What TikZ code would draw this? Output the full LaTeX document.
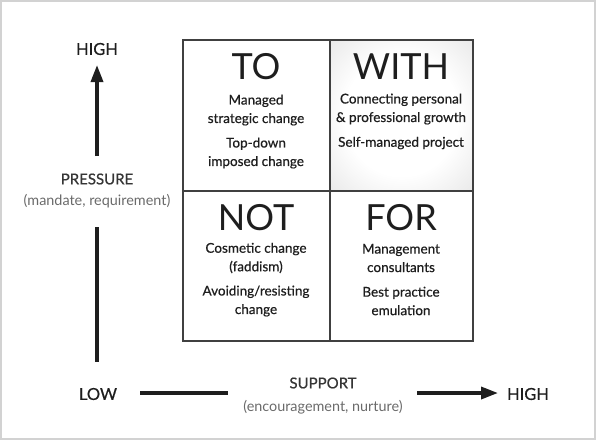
\documentclass[tikz,border=0pt]{standalone}
\usepackage{fontspec}
\setmainfont{Lato}
\newfontfamily\bodyfont{Lato}[FakeBold=0.6]
\usetikzlibrary{arrows.meta}
\definecolor{ink}{HTML}{1E1E1E}
\definecolor{soft}{HTML}{6A6A6A}
\pgfdeclareradialshading{withshade}{\pgfpoint{0bp}{0bp}}{color(0bp)=(white); color(20bp)=(white); color(38bp)=(gray!20); color(50bp)=(gray!38); color(70bp)=(gray!50)}
\begin{document}
\begin{tikzpicture}[x=1pt,y=-1pt,
  title/.style={font=\fontsize{36}{36}\selectfont, text=ink},
  body/.style={font=\bodyfont\fontsize{13.5}{18.5}\selectfont, text=ink, align=center},
  axis/.style={font=\bodyfont\fontsize{15}{17}\selectfont, text=ink!90},
  big/.style={font=\bodyfont\fontsize{16.5}{18}\selectfont, text=ink},
  sub/.style={font=\fontsize{14.4}{16}\selectfont, text=soft},
  bar/.style={line width=3.4pt, draw=ink},
  tip/.style={-{Triangle[width=12pt,length=17pt]}}
]
\useasboundingbox (0,0) rectangle (596,440);
\draw[gray!35, line width=1.5pt] (1,1) rectangle (595,439);
% shaded WITH cell
\shade[shading=withshade] (330,40) rectangle (473,191);
% grid
\draw[ink!85, line width=1.3pt] (183,40) rectangle (473,341);
\draw[ink!85, line width=1.3pt] (330,40) -- (330,341);
\draw[ink!85, line width=1.3pt] (183,191) -- (473,191);
% titles
\node[title] (to) at (256,67) {TO};
\node[title] (with) at (401,67) {WITH};
\node[title] (not) at (256,218) {NOT};
\node[title] (for) at (401,218) {FOR};
% bodies
\node[body] (tob1) at (256,110) {Managed\\strategic change};
\node[body] (tob2) at (256,153) {Top-down\\imposed change};
\node[body] (withb1) at (401,109) {Connecting personal\\\& professional growth};
\node[body] (withb2) at (401,143) {Self-managed project};
\node[body] (notb1) at (256,258) {Cosmetic change\\(faddism)};
\node[body] (notb2) at (256,301) {Avoiding/resisting\\change};
\node[body] (forb1) at (401,258) {Management\\consultants};
\node[body] (forb2) at (401,301) {Best practice\\emulation};
% vertical axis
\node[big] (vhigh) at (97,49) {HIGH};
\node[axis] (press) at (97,179) {PRESSURE};
\node[sub] (mand) at (97,201) {(mandate, requirement)};
\coordinate (v1) at (97,156);
\coordinate (v2) at (97,65);
\coordinate (v3) at (97,227);
\coordinate (v4) at (97,362);
\draw[bar, tip] (v1) -- (v2);
\draw[bar] (v3) -- (v4);
% horizontal axis
\node[big] (low) at (98,394) {LOW};
\node[axis] (supp) at (323,383) {SUPPORT};
\node[sub] (enc) at (323,407) {(encouragement, nurture)};
\node[big] (hhigh) at (528,394) {HIGH};
\coordinate (h1) at (140,393);
\coordinate (h2) at (228,393);
\coordinate (h3) at (417,393);
\coordinate (h4) at (498,393);
\draw[bar] (h1) -- (h2);
\draw[bar, tip] (h3) -- (h4);
\end{tikzpicture}
\end{document}
